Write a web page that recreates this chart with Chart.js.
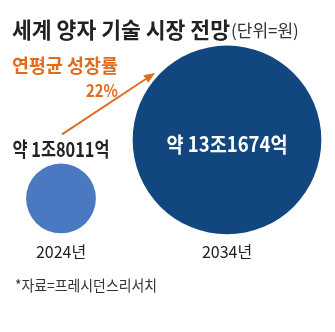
<!DOCTYPE html>
<html>
<head>
<meta charset="utf-8">
<script src="https://cdn.jsdelivr.net/npm/chart.js@4/dist/chart.umd.min.js"></script>
<style>
  html, body { margin: 0; padding: 0; background: #fff; }
  #wrap { width: 335px; height: 332px; position: relative; }
</style>
</head>
<body>
<div id="wrap"><canvas id="chart"></canvas></div>
<script>
// Quantum technology market outlook (unit: trillion won)
const years = ['2024년', '2034년'];
const marketSize = [1.8011, 13.1674];
const valueLabels = ['약 1조8011억', '약 13조1674억'];
const growthLabels = ['연평균 성장률', '22%'];
const titleText = '세계 양자 기술 시장 전망';
const unitText = '(단위=원)';
const sourceText = '*자료=프레시던스리서치';
const bubbleColors = ['#4a79c1', '#11467f'];

const KR = '"Noto Sans CJK KR", "Noto Sans", sans-serif';
const ORANGE = '#e06c1f';
const INK = '#222222';

// Bubble area is proportional to the value. The centre sits at sqrt(value)
// on the y scale and the radius is the same length in pixels, so each
// bubble rests on the x axis.
const PX_PER_UNIT = 26;
const Y_MAX = 7.3;
const points = marketSize.map((v, i) => ({
  x: years[i],
  y: Math.sqrt(v),
  r: PX_PER_UNIT * Math.sqrt(v)
}));

function text(ctx, str, x, y, font, color, align, maxWidth) {
  ctx.font = font;
  ctx.fillStyle = color;
  ctx.textAlign = align;
  ctx.textBaseline = 'middle';
  if (maxWidth) ctx.fillText(str, x, y, maxWidth);
  else ctx.fillText(str, x, y);
}

const annotations = {
  id: 'annotations',
  afterDatasetsDraw(chart) {
    const ctx = chart.ctx;
    const meta = chart.getDatasetMeta(0);
    const small = meta.data[0];
    const big = meta.data[1];
    const rSmall = points[0].r;

    ctx.save();
    // title + unit
    text(ctx, titleText, 12, 30, `bold 22px ${KR}`, INK, 'left', 218);
    text(ctx, unitText, 231, 31, `400 17px ${KR}`, '#333333', 'left', 72);

    // growth note
    text(ctx, growthLabels[0], 12, 66, `bold 19px ${KR}`, ORANGE, 'left', 106);
    text(ctx, growthLabels[1], 118, 91, `bold 17px ${KR}`, ORANGE, 'right', 32);

    // value labels
    text(ctx, valueLabels[0], small.x, small.y - rSmall - 14, `bold 20px ${KR}`, INK, 'center', 97);
    text(ctx, valueLabels[1], big.x, big.y + 4, `bold 21px ${KR}`, '#ffffff', 'center', 121);

    // growth arrow
    const x0 = small.x + 1, y0 = small.y - 64;
    const x1 = big.x - 72, y1 = big.y - 67;
    const ang = Math.atan2(y1 - y0, x1 - x0);
    const headLen = 11, headHalf = 4.5;
    const bx = x1 - headLen * Math.cos(ang), by = y1 - headLen * Math.sin(ang);
    ctx.strokeStyle = ORANGE;
    ctx.lineWidth = 2;
    ctx.beginPath();
    ctx.moveTo(x0, y0);
    ctx.lineTo(bx, by);
    ctx.stroke();
    ctx.fillStyle = ORANGE;
    ctx.beginPath();
    ctx.moveTo(x1, y1);
    ctx.lineTo(bx + headHalf * Math.sin(ang), by - headHalf * Math.cos(ang));
    ctx.lineTo(bx - headHalf * Math.sin(ang), by + headHalf * Math.cos(ang));
    ctx.closePath();
    ctx.fill();

    // source
    text(ctx, sourceText, 15, 285, `400 15px ${KR}`, '#333333', 'left', 142);
    ctx.restore();
  }
};

new Chart(document.getElementById('chart'), {
  type: 'bubble',
  data: {
    labels: years,
    datasets: [{
      data: points,
      backgroundColor: bubbleColors,
      borderWidth: 0,
      hoverBorderWidth: 0,
      clip: false
    }]
  },
  options: {
    responsive: true,
    maintainAspectRatio: false,
    animation: false,
    events: [],
    layout: { autoPadding: false, padding: { left: 61, right: 108, top: 46, bottom: 68 } },
    plugins: { legend: { display: false }, tooltip: { enabled: false } },
    scales: {
      x: {
        type: 'category',
        offset: false,
        grid: { display: false },
        border: { display: false },
        ticks: { color: INK, padding: 2, font: { family: KR, size: 16 } }
      },
      y: { display: false, min: 0, max: Y_MAX }
    }
  },
  plugins: [annotations]
});
</script>
</body>
</html>
